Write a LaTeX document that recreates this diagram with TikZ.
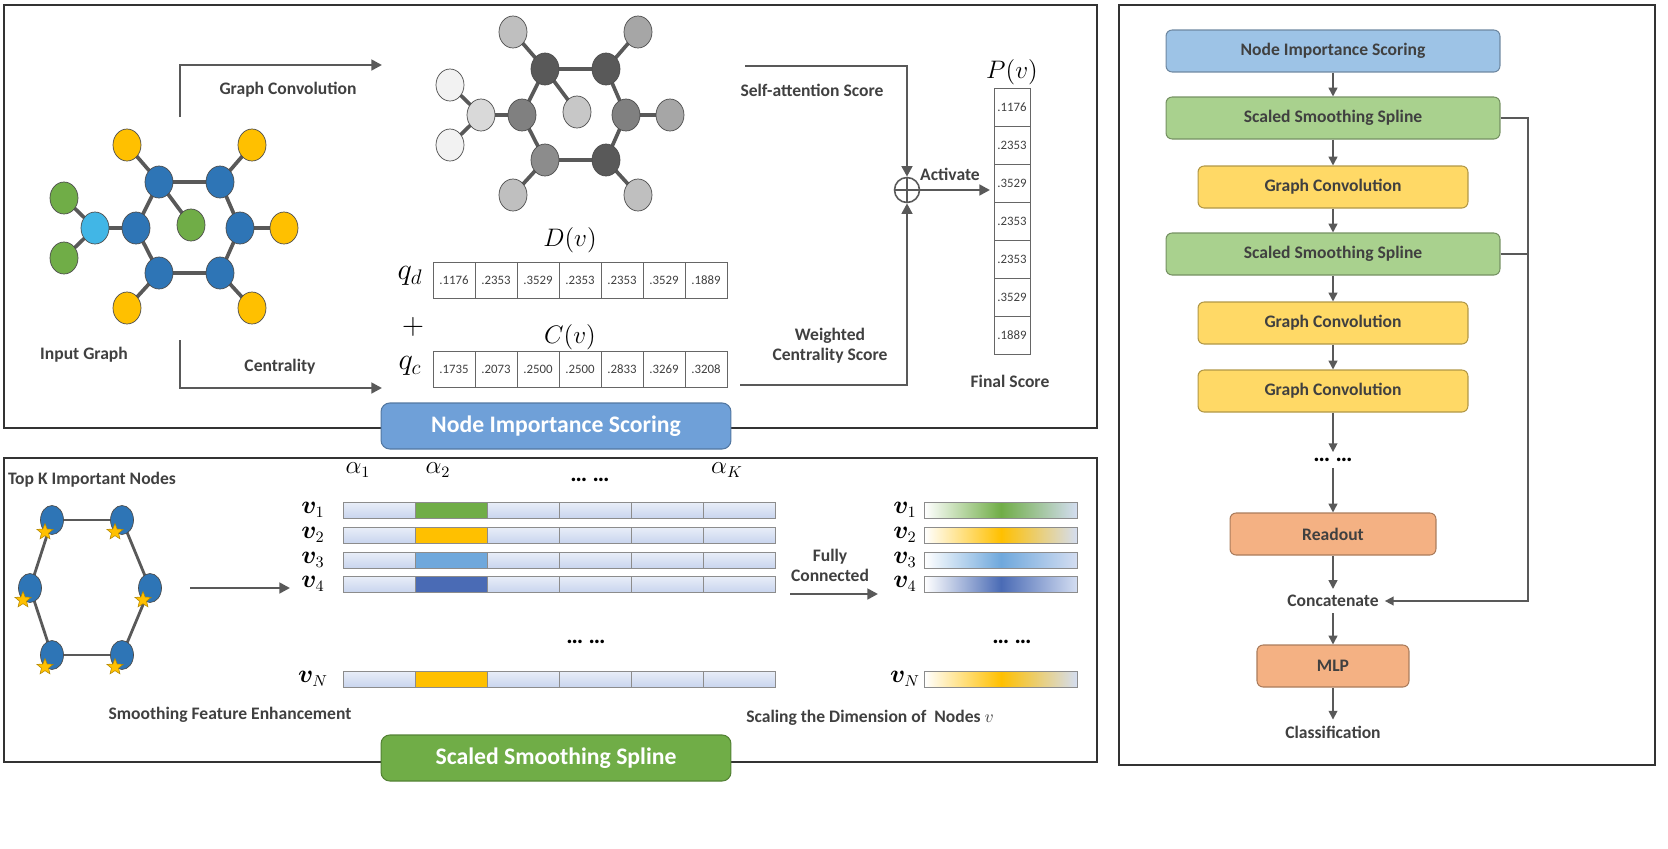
\documentclass[tikz,border=0pt]{standalone}
\usepackage{fontspec}
\usepackage{amsmath,bm}
\setmainfont{Carlito}
\usetikzlibrary{arrows.meta,shapes.geometric}
\definecolor{edge}{HTML}{595959}
\definecolor{hexb}{HTML}{2E75B6}
\definecolor{yel}{HTML}{FFC000}
\definecolor{grn}{HTML}{70AD47}
\definecolor{lbl}{HTML}{41B6E6}
\definecolor{pillb}{HTML}{6FA0D8}
\definecolor{boxb}{HTML}{9DC3E6}
\definecolor{boxg}{HTML}{A9D18E}
\definecolor{boxy}{HTML}{FFD966}
\definecolor{boxo}{HTML}{F4B183}
\definecolor{cellc}{HTML}{C9D5EE}
\definecolor{txt}{HTML}{404040}
\definecolor{mb}{HTML}{6FA8DC}
\definecolor{db}{HTML}{4A6BB5}
\begin{document}
\begin{tikzpicture}[x=0.02cm,y=-0.02cm,
  lab/.style={font=\fontsize{10}{11.5}\selectfont\bfseries, text=txt},
  gn/.style={ellipse, draw=black!70, line width=0.4pt, minimum width=0.56cm, minimum height=0.64cm, inner sep=0pt},
  ge/.style={draw=edge, line width=2.1pt},
  arr/.style={draw=edge, line width=1.6pt, -{Triangle[length=6pt,width=6pt]}},
  thin/.style={draw=edge, line width=0.9pt, -{Triangle[length=5pt,width=5pt]}},
  cell/.style={draw=black!60, line width=0.4pt, minimum width=0.84cm, minimum height=0.72cm, inner sep=0pt, font=\fontsize{7.3}{8}\selectfont, text=txt},
  vcell/.style={draw=black!60, line width=0.4pt, minimum width=0.72cm, minimum height=0.76cm, inner sep=0pt, font=\fontsize{7.3}{8}\selectfont, text=txt},
  fb/.style={rounded corners=3.5pt, draw=#1!70!black, fill=#1, line width=0.6pt, font=\fontsize{10}{11.5}\selectfont\bfseries, text=txt, minimum height=0.84cm},
  mc/.style={draw=black!45, line width=0.4pt, minimum width=1.44cm, minimum height=0.32cm, inner sep=0pt, top color=cellc!40, bottom color=cellc},
  cc/.style={draw=black!45, line width=0.4pt, minimum width=1.44cm, minimum height=0.32cm, inner sep=0pt, fill=#1},
  gv/.style={draw=black!45, line width=0.4pt, minimum width=3.06cm, minimum height=0.32cm, inner sep=0pt, left color=white, right color=cellc!80, middle color=#1},
  pill/.style={rounded corners=5pt, draw=#1!75!black, fill=#1, text=white, line width=0.6pt, font=\fontsize{13.5}{15}\selectfont\bfseries, minimum width=7.0cm, minimum height=0.92cm},
  mathl/.style={font=\fontsize{13.5}{15}\selectfont},
  dots/.style={font=\fontsize{13.5}{15}\selectfont\bfseries},
]
\useasboundingbox (0,0) rectangle (1668,849);
% frames
\draw[line width=1pt, draw=black!80] (4,5) rectangle (1097,428);
\draw[line width=1pt, draw=black!80] (4,458) rectangle (1097,762);
\draw[line width=1pt, draw=black!80] (1119,5) rectangle (1655,765);
\node[pill=pillb] (p1) at (556,426) {Node Importance Scoring};
\node[pill=grn] (p2) at (556,758) {Scaled Smoothing Spline};

% input graph
\foreach \n/\x/\y in {t1/127/145,t2/252/145,h1/159/182,h2/220/182,h3/136/228,h4/240/228,h5/159/273,h6/220/273,r/284/228,b1/127/308,b2/252/308,c/191/225,l/95/228,g1/64/198,g2/64/258}
  \coordinate (i\n) at (\x,\y);
\foreach \a/\b in {h1/h2,h1/h3,h2/h4,h3/h5,h4/h6,h5/h6,h1/c,h3/l,l/g1,l/g2,t1/h1,t2/h2,r/h4,b1/h5,b2/h6}
  \draw[ge] (i\a) -- (i\b);
\foreach \n/\c in {t1/yel,t2/yel,h1/hexb,h2/hexb,h3/hexb,h4/hexb,h5/hexb,h6/hexb,r/yel,b1/yel,b2/yel,c/grn,l/lbl,g1/grn,g2/grn}
  \node[gn, fill=\c] (in\n) at (i\n) {};
\node[lab] (ig) at (84,355) {Input Graph};

% grey graph
\begin{scope}[shift={(386,-113)}]
\foreach \n/\x/\y in {t1/127/145,t2/252/145,h1/159/182,h2/220/182,h3/136/228,h4/240/228,h5/159/273,h6/220/273,r/284/228,b1/127/308,b2/252/308,c/191/225,l/95/228,g1/64/198,g2/64/258}
  \coordinate (o\n) at (\x,\y);
\foreach \a/\b in {h1/h2,h1/h3,h2/h4,h3/h5,h4/h6,h5/h6,h1/c,h3/l,l/g1,l/g2,t1/h1,t2/h2,r/h4,b1/h5,b2/h6}
  \draw[ge] (o\a) -- (o\b);
\foreach \n/\c in {t1/black!25,t2/black!35,h1/black!65,h2/black!65,h3/black!50,h4/black!50,h5/black!45,h6/black!65,r/black!35,b1/black!25,b2/black!25,c/black!22,l/black!15,g1/black!5,g2/black!5}
  \node[gn, fill=\c] (on\n) at (o\n) {};
\end{scope}

% arrows from input graph
\coordinate (gcs) at (180,117); \coordinate (gce) at (382,65);
\draw[arr] (gcs) |- (gce);
\node[lab] (gcl) at (288,90) {Graph Convolution};
\coordinate (ces) at (180,340); \coordinate (cee) at (382,388);
\draw[arr] (ces) |- (cee);
\node[lab] (cel) at (280,367) {Centrality};

% tables
\node[mathl] (dv) at (570,240) {$D(v)$};
\node[font=\fontsize{17}{19}\selectfont] (qd) at (410,276) {$q_d$};
\foreach \v [count=\k from 0] in {.1176,.2353,.3529,.2353,.2353,.3529,.1889}
  \node[cell] (qd\k) at ({454+42*\k},280) {\v};
\node[font=\fontsize{17}{19}\selectfont] (plus) at (413,327) {$+$};
\node[mathl] (cv) at (570,337) {$C(v)$};
\node[font=\fontsize{17}{19}\selectfont] (qc) at (410,366) {$q_c$};
\foreach \v [count=\k from 0] in {.1735,.2073,.2500,.2500,.2833,.3269,.3208}
  \node[cell] (qc\k) at ({454+42*\k},369) {\v};

% combine
\node[circle, draw=edge, line width=0.9pt, minimum size=0.5cm, inner sep=0pt] (op) at (907,190) {};
\draw[edge, line width=0.9pt] (op.north) -- (op.south) (op.west) -- (op.east);
\coordinate (sas) at (745,66);
\draw[arr] (sas) -| (op.north);
\node[lab] (sal) at (812,90) {Self-attention Score};
\coordinate (wcs) at (740,385);
\draw[arr] (wcs) -| (op.south);
\node[lab, align=center] (wcl) at (830,346) {Weighted\\Centrality Score};
\coordinate (pve) at (990,190);
\draw[arr] (op.east) -- (pve);
\node[lab] (act) at (950,174) {Activate};
\node[mathl] (pv) at (1012,72) {$P(v)$};
\foreach \v [count=\k from 0] in {.1176,.2353,.3529,.2353,.2353,.3529,.1889}
  \node[vcell] (pv\k) at (1012,{107+38*\k}) {\v};
\node[lab] (fs) at (1010,381) {Final Score};

% bottom section
\node[lab] (tk) at (92,480) {Top K Important Nodes};
\foreach \n/\x/\y in {1/52/520,2/122/520,3/30/588,4/150/588,5/52/655,6/122/655}
  \coordinate (k\n) at (\x,\y);
\foreach \a/\b in {1/2,1/3,2/4,3/5,4/6,5/6}
  \draw[draw=edge, line width=1.6pt] (k\a) -- (k\b);
\foreach \n in {1,...,6}{
  \node[gn, fill=hexb, minimum width=0.46cm, minimum height=0.58cm] (kn\n) at (k\n) {};
  \node[star, star points=5, star point ratio=2.3, fill=yel, draw=yel!70!black, line width=0.3pt, minimum size=0.34cm, inner sep=0pt] (ks\n) at ([shift={(-7,12)}]k\n) {};
}
\coordinate (ha1) at (190,588); \coordinate (ha2) at (290,588);
\draw[arr] (ha1) -- (ha2);
\node[mathl] (a1) at (358,470) {$\alpha_1$};
\node[mathl] (a2) at (438,470) {$\alpha_2$};
\node[dots] (ad) at (590,480) {\dots\ \dots};
\node[mathl] (aK) at (727,470) {$\alpha_K$};
\foreach \r/\y/\c/\s in {1/510/grn/1,2/535/yel/2,3/560/mb/3,4/584/db/4,N/679/yel/N}{
  \node[mathl] (vl\r) at (313,\y) {$\bm{v}_{\s}$};
  \foreach \k in {0,...,5}
    \node[mc] (m\r c\k) at ({379+72*\k},\y) {};
  \node[cc=\c] (m\r cx) at (451,\y) {};
  \node[mathl] (wl\r) at (905,\y) {$\bm{v}_{\s}$};
}
\node[gv=grn] (g1) at (1001,510) {};
\node[gv=yel] (g2) at (1001,535) {};
\node[gv=mb] (g3) at (1001,560) {};
\node[gv=db] (g4) at (1001,584) {};
\node[gv=yel] (gN) at (1001,679) {};
\node[dots] (md) at (586,642) {\dots\ \dots};
\node[dots] (rd) at (1012,642) {\dots\ \dots};
\node[lab, align=center] (fc) at (830,565) {Fully\\Connected};
\coordinate (fa1) at (790,594); \coordinate (fa2) at (878,594);
\draw[arr] (fa1) -- (fa2);
\node[lab] (sfe) at (230,715) {Smoothing Feature Enhancement};
\node[lab] (sdn) at (870,718) {Scaling the Dimension of\ \ Nodes $v$};

% right panel
\node[fb=boxb, minimum width=6.68cm] (r1) at (1333,51) {Node Importance Scoring};
\node[fb=boxg, minimum width=6.68cm] (r2) at (1333,118) {Scaled Smoothing Spline};
\node[fb=boxy, minimum width=5.4cm] (r3) at (1333,187) {Graph Convolution};
\node[fb=boxg, minimum width=6.68cm] (r4) at (1333,254) {Scaled Smoothing Spline};
\node[fb=boxy, minimum width=5.4cm] (r5) at (1333,323) {Graph Convolution};
\node[fb=boxy, minimum width=5.4cm] (r6) at (1333,391) {Graph Convolution};
\node[dots] (r7) at (1333,460) {\dots\ \dots};
\node[fb=boxo, minimum width=4.12cm] (r8) at (1333,534) {Readout};
\node[lab] (r9) at (1333,601) {Concatenate};
\node[fb=boxo, minimum width=3.04cm] (r10) at (1333,666) {MLP};
\node[lab] (r11) at (1333,732) {Classification};
\foreach \a/\b in {r1/r2,r2/r3,r3/r4,r4/r5,r5/r6,r6/r7,r7/r8,r8/r9,r9/r10,r10/r11}
  \draw[thin] (\a) -- (\b);
\coordinate (sx) at (1528,0);
\draw[thin] (r2.east) -- (r2.east -| sx) |- (r9.east);
\draw[draw=edge, line width=0.9pt] (r4.east) -- (r4.east -| sx);
\end{tikzpicture}
\end{document}
